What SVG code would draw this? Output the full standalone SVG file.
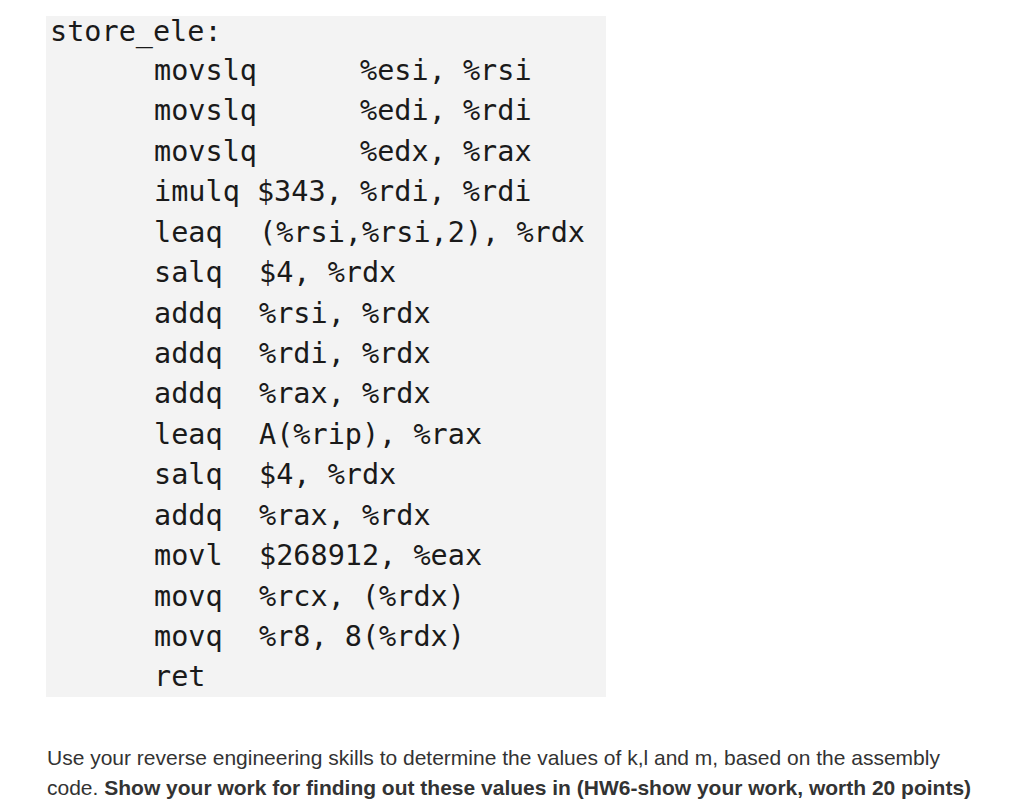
<svg xmlns="http://www.w3.org/2000/svg" width="1024" height="811" viewBox="0 0 1024 811">
<style>
.c{font-family:"DejaVu Sans Mono","Liberation Mono",monospace;font-size:28.5px;fill:#1a1a1a}
.p{font-family:"Liberation Sans",Arial,sans-serif;font-size:21px;fill:#333}
</style>
<rect width="1024" height="811" fill="#fff"/>
<rect x="46" y="16" width="560" height="681" fill="#f3f3f3"/>
<g class="c">
<text x="50" y="41">store_ele:</text>
<text x="154" y="80">movslq</text><text x="360" y="80">%esi, %rsi</text>
<text x="154" y="120">movslq</text><text x="360" y="120">%edi, %rdi</text>
<text x="154" y="161">movslq</text><text x="360" y="161">%edx, %rax</text>
<text x="154" y="201">imulq $343, %rdi, %rdi</text>
<text x="154" y="242">leaq</text><text x="259" y="242">(%rsi,%rsi,2), %rdx</text>
<text x="154" y="282">salq</text><text x="259" y="282">$4, %rdx</text>
<text x="154" y="323">addq</text><text x="259" y="323">%rsi, %rdx</text>
<text x="154" y="363">addq</text><text x="259" y="363">%rdi, %rdx</text>
<text x="154" y="403">addq</text><text x="259" y="403">%rax, %rdx</text>
<text x="154" y="444">leaq</text><text x="259" y="444">A(%rip), %rax</text>
<text x="154" y="484">salq</text><text x="259" y="484">$4, %rdx</text>
<text x="154" y="525">addq</text><text x="259" y="525">%rax, %rdx</text>
<text x="154" y="565">movl</text><text x="259" y="565">$268912, %eax</text>
<text x="154" y="606">movq</text><text x="259" y="606">%rcx, (%rdx)</text>
<text x="154" y="646">movq</text><text x="259" y="646">%r8, 8(%rdx)</text>
<text x="154" y="686">ret</text>
</g>
<text class="p" x="47" y="765">Use your reverse engineering skills to determine the values of k,l and m, based on the assembly</text>
<text class="p" x="47" y="795">code. <tspan font-weight="bold">Show your work for finding out these values in (HW6-show your work, worth 20 points)</tspan></text>
</svg>
